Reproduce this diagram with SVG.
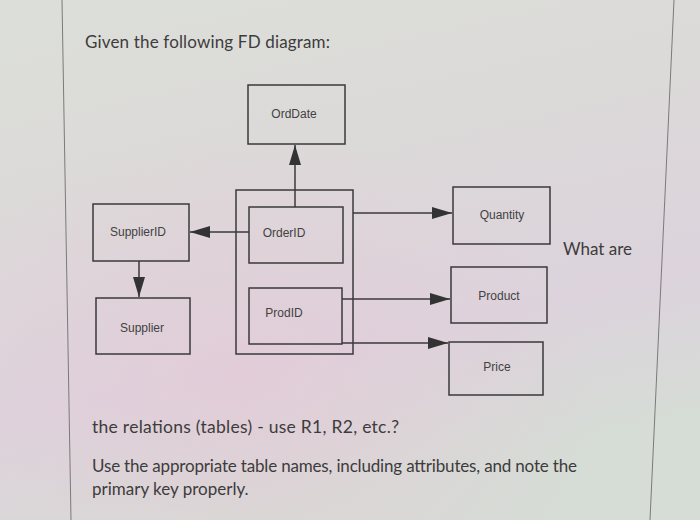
<svg xmlns="http://www.w3.org/2000/svg" width="700" height="520" viewBox="0 0 700 520">
<defs>
<linearGradient id="bg" x1="0" y1="0" x2="0.3" y2="1">
<stop offset="0" stop-color="#dcdfd9"/>
<stop offset="0.4" stop-color="#dcd9d9"/>
<stop offset="0.75" stop-color="#dcd3dc"/>
<stop offset="1" stop-color="#d6dcd6"/>
</linearGradient>
<radialGradient id="tint" cx="0.35" cy="0.75" r="0.5">
<stop offset="0" stop-color="#e6c8d6" stop-opacity="0.6"/>
<stop offset="1" stop-color="#e6c8d6" stop-opacity="0"/>
</radialGradient>
<marker id="ah" viewBox="0 0 20 12" refX="20" refY="6" markerWidth="20" markerHeight="12" markerUnits="userSpaceOnUse" orient="auto">
<path d="M0,0 L20,6 L0,12 Z" fill="#333"/>
</marker>
<style>
.box{fill:none;stroke:#3a3a3a;stroke-width:1.5}
.lbl{font-family:"Liberation Sans",Arial,sans-serif;font-size:12px;fill:#424242;text-anchor:middle}
.con{fill:none;stroke:#3a3a3a;stroke-width:1.5}
.txt{font-family:Lato,"Open Sans",sans-serif;font-size:17px;fill:#3c3c3c}
.edge{stroke:#7a7a7a;stroke-width:1}
</style>
</defs>
<rect width="700" height="520" fill="url(#bg)"/>
<rect width="700" height="520" fill="url(#tint)"/>
<line class="edge" x1="62" y1="0" x2="71" y2="520"/>
<line class="edge" x1="674" y1="0" x2="650" y2="520"/>

<text class="txt" x="85" y="48" textLength="245">Given the following FD diagram:</text>

<g id="outer"><rect class="box" x="236" y="190" width="117" height="164"/></g>
<g id="OrdDate"><rect class="box" x="248" y="85" width="97" height="59"/><text class="lbl" x="294" y="118">OrdDate</text></g>
<g id="SupplierID"><rect class="box" x="93" y="204" width="96" height="57"/><text class="lbl" x="138" y="236">SupplierID</text></g>
<g id="Supplier"><rect class="box" x="96" y="298" width="94" height="56"/><text class="lbl" x="142" y="332">Supplier</text></g>
<g id="OrderID"><rect class="box" x="249" y="207" width="94" height="56"/><text class="lbl" x="284" y="237">OrderID</text></g>
<g id="ProdID"><rect class="box" x="249" y="288" width="93" height="56"/><text class="lbl" x="284" y="317">ProdID</text></g>
<g id="Quantity"><rect class="box" x="453" y="187" width="97" height="57"/><text class="lbl" x="502" y="219">Quantity</text></g>
<g id="Product"><rect class="box" x="451" y="267" width="96" height="56"/><text class="lbl" x="499" y="300">Product</text></g>
<g id="Price"><rect class="box" x="449" y="342" width="94" height="53"/><text class="lbl" x="497" y="371">Price</text></g>

<g id="connectors">
<line class="con" x1="295" y1="207" x2="295" y2="145" marker-end="url(#ah)"/>
<line class="con" x1="249" y1="232" x2="190" y2="232" marker-end="url(#ah)"/>
<line class="con" x1="139" y1="261" x2="139" y2="297" marker-end="url(#ah)"/>
<line class="con" x1="353" y1="213" x2="452" y2="213" marker-end="url(#ah)"/>
<line class="con" x1="342" y1="299" x2="450" y2="299" marker-end="url(#ah)"/>
<line class="con" x1="342" y1="343" x2="448" y2="343" marker-end="url(#ah)"/>
</g>

<text class="txt" x="563" y="255">What are</text>
<text class="txt" x="92" y="433" textLength="307" style="font-size:17.5px">the relations (tables) - use R1, R2, etc.?</text>
<text class="txt" x="92" y="472" textLength="485">Use the appropriate table names, including attributes, and note the</text>
<text class="txt" x="92" y="495">primary key properly.</text>
</svg>
